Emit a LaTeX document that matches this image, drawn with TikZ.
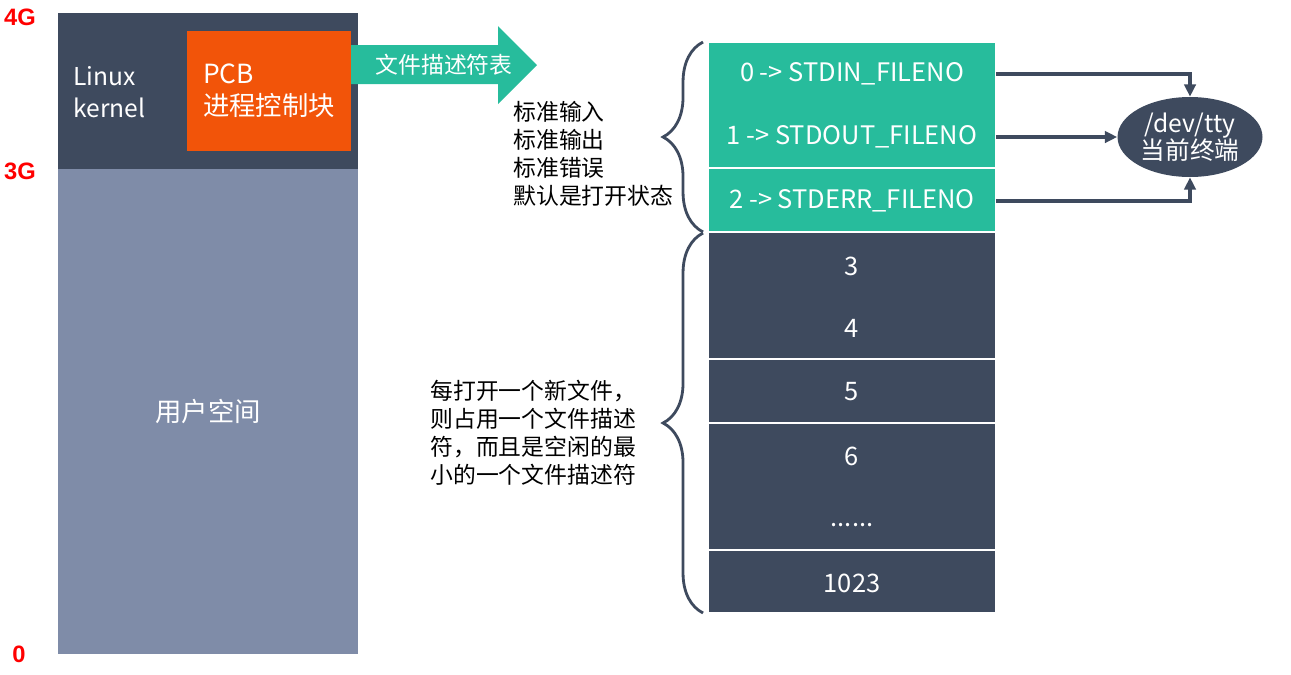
\documentclass[tikz,border=0pt]{standalone}
\usepackage{fontspec}
\setmainfont{Noto Sans CJK SC}
\newfontfamily\markfont{Liberation Sans}
\usetikzlibrary{arrows.meta,shapes.geometric,decorations.pathreplacing}
\definecolor{slate}{HTML}{3E4A5E}
\definecolor{steel}{HTML}{7F8CA8}
\definecolor{pcborange}{HTML}{F25409}
\definecolor{fdgreen}{HTML}{27BC9C}

\begin{document}
\begin{tikzpicture}[x=0.02cm, y=-0.02cm,
    cell/.style={draw=white, line width=0.8pt, minimum width=5.76cm, inner sep=0pt, outer sep=0pt},
    txt/.style={text=white, font=\fontsize{14.5}{17}\selectfont},
    note/.style={align=left, anchor=west, inner sep=0pt, font=\fontsize{13}{16}\selectfont},
    gbmark/.style={text=red, font=\markfont\bfseries\fontsize{13.5}{16}\selectfont},
    link/.style={-{Triangle[length=7pt,width=6.5pt]}, line width=1.9pt, draw=slate},
    curly/.style={decorate, decoration={brace, amplitude=0.8cm}, line width=1.6pt, draw=slate}
]
    \useasboundingbox (0,0) rectangle (1291,674);

    % Address space
    \node[fill=slate, minimum width=6cm, minimum height=3.12cm, inner sep=0pt] (kernel) at (208,91) {};
    \node[fill=steel, minimum width=6cm, minimum height=9.7cm, inner sep=0pt, txt, font=\fontsize{15}{18}\selectfont] (user) at (208,411.5) {用户空间};
    \node[txt, align=left, anchor=west, inner sep=0pt, font=\fontsize{14}{18}\selectfont] (linux) at (73,92) {Linux\\kernel};
    \node[fill=pcborange, minimum width=3.28cm, minimum height=2.4cm, align=left, txt, font=\fontsize{15}{18}\selectfont] (pcb) at (269,91) {PCB\\进程控制块};

    % Sizes on the left
    \node[gbmark] (g4) at (20,17) {4G};
    \node[gbmark] (g3) at (20,171) {3G};
    \node[gbmark] (g0) at (19,654) {0};

    % Arrow to the table
    \fill[fdgreen] (351,45) -- (498,45) -- (498,26) -- (537,65) -- (498,104) -- (498,84) -- (351,84) -- cycle;
    \node[txt, font=\fontsize{13}{16}\selectfont] (fdtable) at (444,65) {文件描述符表};

    % Table cells
    \node[cell, fill=fdgreen, minimum height=2.52cm] (c01) at (852,105) {};
    \node[cell, fill=fdgreen, minimum height=1.28cm] (c2) at (852,200) {};
    \node[cell, fill=slate, minimum height=2.54cm] (c34) at (852,295.5) {};
    \node[cell, fill=slate, minimum height=1.28cm] (c5) at (852,391) {};
    \node[cell, fill=slate, minimum height=2.54cm] (c6) at (852,486.5) {};
    \node[cell, fill=slate, minimum height=1.26cm] (c1023) at (852,581.5) {};

    % Entries
    \node[txt] (stdin) at (852,74) {0 -> STDIN\_FILENO};
    \node[txt] (stdout) at (852,137) {1 -> STDOUT\_FILENO};
    \node[txt] (stderr) at (852,201) {2 -> STDERR\_FILENO};
    \node[txt] (fd3) at (852,266) {3};
    \node[txt] (fd4) at (852,328) {4};
    \node[txt] (fd5) at (852,392) {5};
    \node[txt] (fd6) at (852,456) {6};
    \node[txt] (fddots) at (852,525) {......};
    \node[txt] (fd1023) at (852,583) {1023};

    % Terminal
    \node[ellipse, fill=slate, minimum width=2.9cm, minimum height=1.6cm, inner sep=0pt, align=center, txt, font=\fontsize{14}{15.5}\selectfont] (tty) at (1190,137) {/dev/tty\\当前终端};

    % Arrows
    \draw[link] (c01.east |- stdin) -| (tty.north);
    \draw[link] (c01.east |- tty.west) -- (tty.west);
    \draw[link] (c2.east |- stderr) -| (tty.south);

    % Braces and notes
    \draw[curly] ([xshift=-0.1cm]c2.south west) -- ([xshift=-0.1cm]c01.north west);
    \draw[curly] ([xshift=-0.1cm]c1023.south west) -- ([xshift=-0.1cm, yshift=-0.02cm]c34.north west);
    \node[note] (stdnote) at (513,154) {标准输入\\标准输出\\标准错误\\默认是打开状态};
    \node[note] (newnote) at (430,433) {每打开一个新文件，\\则占用一个文件描述\\符，而且是空闲的最\\小的一个文件描述符};

\end{tikzpicture}
\end{document}
